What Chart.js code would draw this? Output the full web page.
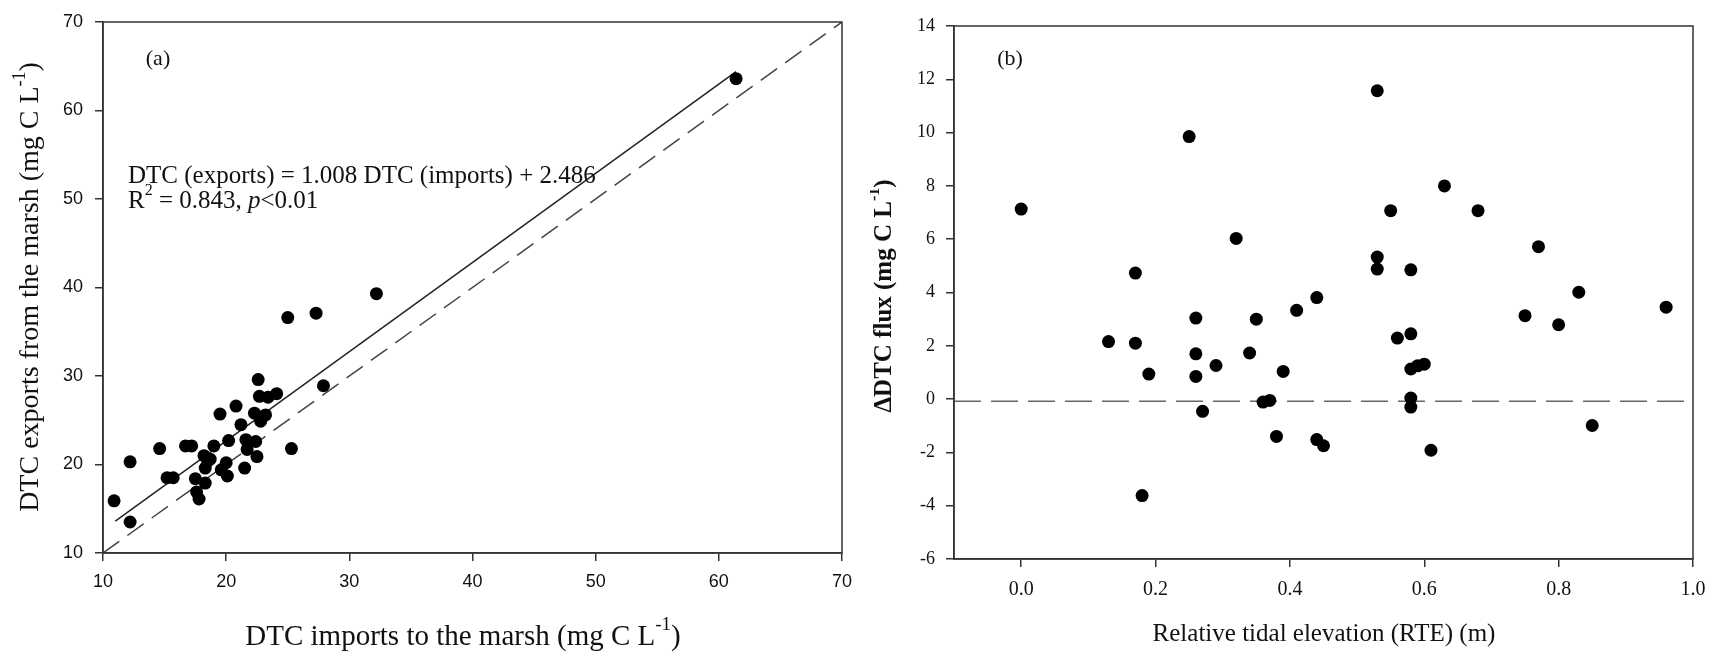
<!DOCTYPE html>
<html>
<head>
<meta charset="utf-8">
<script src="https://cdn.jsdelivr.net/npm/chart.js@4.4.0/dist/chart.umd.min.js"></script>
<style>
  html, body { margin: 0; padding: 0; background: #fff; }
  #wrap { position: relative; width: 1725px; height: 662px; }
  #c1 { position: absolute; left: 0; top: 0; }
  #c2 { position: absolute; left: 870px; top: 0; }
</style>
</head>
<body>
<div id="wrap">
  <canvas id="c1" width="870" height="662"></canvas>
  <canvas id="c2" width="855" height="662"></canvas>
</div>
<script>
// panel (a): DTC imports vs exports (mg C / L)
var importsA = [10.9, 12.2, 12.2, 14.6, 15.2, 15.7, 16.7, 17.2, 17.5, 17.6, 17.8, 18.3, 18.2, 18.5,
                18.3, 18.7, 19.0, 19.5, 19.6, 20.0, 20.1, 20.2, 20.8, 21.2, 21.5, 21.6, 21.7, 22.3,
                22.4, 22.5, 22.6, 22.7, 22.8, 23.2, 23.4, 24.1, 25.3, 27.9, 25.0, 27.3, 32.2, 61.4];
var exportsA = [15.9, 20.3, 13.5, 21.8, 18.5, 18.5, 22.1, 22.1, 18.4, 16.9, 16.1, 17.9, 21.0, 20.4,
                19.6, 20.6, 22.1, 25.7, 19.4, 20.2, 18.7, 22.7, 26.6, 24.5, 19.6, 22.8, 21.7, 25.8,
                22.6, 20.9, 29.6, 27.7, 24.9, 25.6, 27.6, 28.0, 21.8, 28.9, 36.6, 37.1, 39.3, 63.6];
// fitted line (solid) and 1:1 line (dashed), end points as drawn
var fitX = [11.0, 61.4];
var fitY = [13.6, 64.4];
var oneX = [10, 70];
var oneY = [10, 70];
var ticksA = [10, 20, 30, 40, 50, 60, 70];

// panel (b): relative tidal elevation vs delta DTC flux
var rte  = [0.00, 0.25, 0.32, 0.17, 0.26, 0.35, 0.41, 0.44, 0.13, 0.17, 0.19, 0.26, 0.26, 0.29, 0.34,
            0.39, 0.27, 0.36, 0.37, 0.38, 0.44, 0.45, 0.18, 0.53, 0.63, 0.55, 0.68, 0.77, 0.53, 0.53,
            0.58, 0.83, 0.96, 0.75, 0.80, 0.58, 0.56, 0.58, 0.59, 0.60, 0.58, 0.58, 0.61, 0.85];
var flux = [7.13, 9.85, 6.03, 4.73, 3.04, 3.00, 3.33, 3.81, 2.16, 2.10, 0.94, 1.70, 0.85, 1.26, 1.73,
            1.04, -0.46, -0.11, -0.05, -1.40, -1.52, -1.75, -3.62, 11.57, 8.00, 7.07, 7.07, 5.72, 5.33, 4.88,
            4.85, 4.01, 3.45, 3.13, 2.79, 2.45, 2.29, 1.13, 1.25, 1.31, 0.04, -0.30, -1.92, -0.99];
var refX = [-0.1, 1.0];
var refY = [-0.08, -0.08];
var ticksBx = [0.0, 0.2, 0.4, 0.6, 0.8, 1.0];
var ticksBy = [-6, -4, -2, 0, 2, 4, 6, 8, 10, 12, 14];

function pts(xs, ys) {
  return xs.map(function (x, i) { return { x: x, y: ys[i] }; });
}

// text with superscripts / italics, drawn on the canvas
function drawRich(ctx, t) {
  var size = t.size, fam = t.family || 'Liberation Serif', w = t.weight || 'normal';
  function font(p) {
    var s = p.sup ? Math.round(size * 0.65) : size;
    return (p.italic ? 'italic ' : '') + w + ' ' + s + 'px "' + fam + '"';
  }
  ctx.save();
  ctx.translate(t.x, t.y);
  if (t.rot) ctx.rotate(t.rot);
  ctx.fillStyle = t.color || '#111';
  ctx.textBaseline = 'middle';
  ctx.textAlign = 'left';
  var total = 0;
  t.parts.forEach(function (p) { ctx.font = font(p); total += ctx.measureText(p.t).width; });
  var cx = t.align === 'left' ? 0 : -total / 2;
  t.parts.forEach(function (p) {
    ctx.font = font(p);
    ctx.fillText(p.t, cx, p.sup ? -size * 0.4 : 0);
    cx += ctx.measureText(p.t).width;
  });
  ctx.restore();
}

function framePlugin(texts) {
  return {
    id: 'frame',
    afterDraw: function (chart) {
      var ctx = chart.ctx, a = chart.chartArea;
      ctx.save();
      ctx.strokeStyle = '#333';
      ctx.lineWidth = 1.5;
      ctx.strokeRect(a.left, a.top, a.right - a.left, a.bottom - a.top);
      ctx.restore();
      texts.forEach(function (t) { drawRich(ctx, t); });
    }
  };
}

function axis(min, max, tickVals, fontFam, size, pad, fitFn, fmt) {
  return {
    type: 'linear', min: min, max: max,
    afterBuildTicks: function (s) { s.ticks = tickVals.map(function (v) { return { value: v }; }); },
    afterFit: fitFn,
    grid: { drawOnChartArea: false, drawTicks: true, tickLength: 8, tickColor: '#333', lineWidth: 1.5 },
    border: { display: true, color: '#333', width: 1.5 },
    ticks: { padding: pad, color: '#111', font: { family: fontFam, size: size },
             callback: fmt || function (v) { return v; } }
  };
}

var common = {
  responsive: false,
  animation: false,
  plugins: { legend: { display: false }, tooltip: { enabled: false } }
};

new Chart(document.getElementById('c1'), {
  type: 'scatter',
  data: {
    datasets: [
      { data: pts(importsA, exportsA), pointRadius: 6.5, pointHoverRadius: 6.5,
        backgroundColor: '#000', borderWidth: 0 },
      { data: pts(fitX, fitY), showLine: true, pointRadius: 0, borderColor: '#222', borderWidth: 1.5 },
      { data: pts(oneX, oneY), showLine: true, pointRadius: 0, borderColor: '#444', borderWidth: 1.5,
        borderDash: [20, 10] }
    ]
  },
  options: Object.assign({}, common, {
    layout: { padding: { top: 22, right: 28, left: 0, bottom: 0 } },
    scales: {
      x: axis(10, 70, ticksA, 'Liberation Sans', 18, 10, function (s) {
        s.height = 109; s.paddingLeft = 0; s.paddingRight = 0;
      }),
      y: axis(10, 70, ticksA, 'Liberation Sans', 18, 12, function (s) {
        s.width = 103; s.paddingTop = 0; s.paddingBottom = 0;
      })
    }
  }),
  plugins: [framePlugin([
    { x: 31, y: 287, rot: -Math.PI / 2, size: 28,
      parts: [{ t: 'DTC exports from the marsh (mg C L' }, { t: '-1', sup: true }, { t: ')' }] },
    { x: 463, y: 637, size: 29,
      parts: [{ t: 'DTC imports to the marsh (mg C L' }, { t: '-1', sup: true }, { t: ')' }] },
    { x: 158, y: 59, size: 22, parts: [{ t: '(a)' }] },
    { x: 128, y: 176, size: 25, align: 'left',
      parts: [{ t: 'DTC (exports) = 1.008 DTC (imports) + 2.486' }] },
    { x: 128, y: 201, size: 25, align: 'left',
      parts: [{ t: 'R' }, { t: '2', sup: true }, { t: ' = 0.843, ' }, { t: 'p', italic: true }, { t: '<0.01' }] }
  ])]
});

new Chart(document.getElementById('c2'), {
  type: 'scatter',
  data: {
    datasets: [
      { data: pts(rte, flux), pointRadius: 6.5, pointHoverRadius: 6.5,
        backgroundColor: '#000', borderWidth: 0 },
      { data: pts(refX, refY), showLine: true, pointRadius: 0, borderColor: '#666', borderWidth: 1.5,
        borderDash: [27, 10] }
    ]
  },
  options: Object.assign({}, common, {
    layout: { padding: { top: 26, right: 32, left: 0, bottom: 0 } },
    scales: {
      x: axis(-0.1, 1.0, ticksBx, 'Liberation Serif', 20, 11, function (s) {
        s.height = 103; s.paddingLeft = 0; s.paddingRight = 0;
      }, function (v) { return v.toFixed(1); }),
      y: axis(-6, 14, ticksBy, 'Liberation Serif', 18, 11, function (s) {
        s.width = 84; s.paddingTop = 0; s.paddingBottom = 0;
      })
    }
  }),
  plugins: [framePlugin([
    { x: 15, y: 296, rot: -Math.PI / 2, size: 25, weight: 'bold',
      parts: [{ t: '\u0394DTC flux (mg C L' }, { t: '-1', sup: true }, { t: ')' }] },
    { x: 454, y: 634, size: 25,
      parts: [{ t: 'Relative tidal elevation (RTE) (m)' }] },
    { x: 140, y: 59, size: 22, parts: [{ t: '(b)' }] }
  ])]
});
</script>
</body>
</html>
